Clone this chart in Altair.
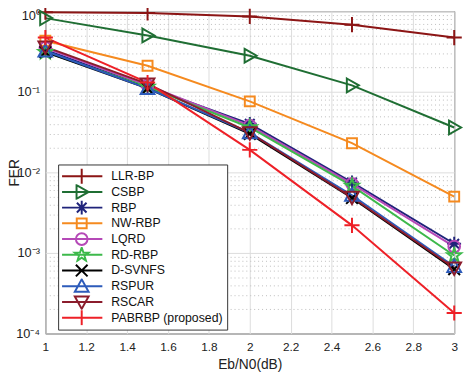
import altair as alt
import pandas as pd
import numpy as np

# ---- data ----
ebn0 = [1.0, 1.5, 2.0, 2.5, 3.0]
series_names = ["LLR-BP", "CSBP", "RBP", "NW-RBP", "LQRD", "RD-RBP",
                "D-SVNFS", "RSPUR", "RSCAR", "PABRBP (proposed)"]
fer_llrbp = [0.97, 0.95, 0.86, 0.68, 0.47]
fer_csbp = [0.82, 0.50, 0.28, 0.12, 0.036]
fer_rbp = [0.33, 0.115, 0.040, 0.0075, 0.0013]
fer_nwrbp = [0.43, 0.21, 0.076, 0.023, 0.0050]
fer_lqrd = [0.35, 0.12, 0.038, 0.0072, 0.0012]
fer_rdrbp = [0.31, 0.115, 0.036, 0.0068, 0.00093]
fer_dsvnfs = [0.31, 0.11, 0.030, 0.0048, 0.00063]
fer_rspur = [0.32, 0.11, 0.031, 0.0052, 0.00068]
fer_rscar = [0.36, 0.125, 0.031, 0.0049, 0.00065]
fer_pabrbp = [0.47, 0.13, 0.019, 0.0022, 0.00018]
all_fer = [fer_llrbp, fer_csbp, fer_rbp, fer_nwrbp, fer_lqrd, fer_rdrbp,
           fer_dsvnfs, fer_rspur, fer_rscar, fer_pabrbp]

colors = ["#8C1515", "#1F6E33", "#1F237A", "#F58A1F", "#B549B7", "#3DB94B",
          "#000000", "#2D5BBA", "#8B1C2C", "#EE2027"]

x_ticks = [1.0, 1.2, 1.4, 1.6, 1.8, 2.0, 2.2, 2.4, 2.6, 2.8, 3.0]
y_major = [1e-4, 1e-3, 1e-2, 1e-1, 1.0]
y_minor = [m * d for d in [1e-4, 1e-3, 1e-2, 1e-1] for m in range(2, 10)]


# marker shapes (unit paths)
def star_path():
    pts = []
    for i in range(10):
        r = 1.05 if i % 2 == 0 else 0.42
        a = -np.pi / 2 + i * np.pi / 5
        pts.append((r * np.cos(a), r * np.sin(a)))
    return "M" + "L".join(f"{x:.3f},{y:.3f}" for x, y in pts) + "Z"


markers = [
    "M-1.1,0L1.1,0M0,-1.1L0,1.1",                                  # +
    "M-0.75,-1L1,0L-0.75,1Z",                                      # >
    "M-1,0L1,0M0,-1L0,1M-0.7,-0.7L0.7,0.7M-0.7,0.7L0.7,-0.7",       # *
    "M-0.72,-0.72L0.72,-0.72L0.72,0.72L-0.72,0.72Z",               # square
    "M-0.85,0A0.85,0.85 0 1,0 0.85,0A0.85,0.85 0 1,0 -0.85,0Z",    # circle
    star_path(),                                                   # pentagram
    "M-0.85,-0.85L0.85,0.85M-0.85,0.85L0.85,-0.85",                # x
    "M-1,0.8L0,-1L1,0.8Z",                                         # ^
    "M-1,-0.8L0,1L1,-0.8Z",                                        # v
    "M-1.1,0L1.1,0M0,-1.1L0,1.1",                                  # +
]
legend_shapes = [m + "M-3,0L3,0" for m in markers]

rows = []
for name, vals in zip(series_names, all_fer):
    for xv, yv in zip(ebn0, vals):
        rows.append({"series": name, "ebn0": xv, "fer": yv})
df = pd.DataFrame(rows)

FONT = "Liberation Sans"
SIZE = 196
xscale = alt.Scale(domain=[1, 3], nice=False, zero=False)
yscale = alt.Scale(type="log", domain=[1e-4, 1], nice=False)
cscale = alt.Scale(domain=series_names, range=colors)

base = alt.Chart(df)

# minor grid + x axis
g1 = base.mark_point(opacity=0).encode(
    x=alt.X("ebn0:Q", scale=xscale, title="Eb/N0(dB)",
            axis=alt.Axis(values=x_ticks, grid=True, gridColor="#DCDCDC", gridWidth=1,
                          domain=False, ticks=False, labelPadding=8,
                          labelFont=FONT, labelFontSize=12, labelColor="#222",
                          titleFont=FONT, titleFontSize=14, titleFontWeight="normal",
                          titleColor="#222", titlePadding=6, format=".1~f",
                          labelFlush=False)),
    y=alt.Y("fer:Q", scale=yscale,
            axis=alt.Axis(values=y_minor, grid=True, gridColor="#BDBDBD", gridDash=[1, 3],
                          gridWidth=1, labels=False, ticks=False, domain=False,
                          orient="left", title=None)),
)

# major grid + y labels
g2 = base.mark_point(opacity=0).encode(
    x=alt.X("ebn0:Q", scale=xscale, axis=None),
    y=alt.Y("fer:Q", scale=yscale, title="FER",
            axis=alt.Axis(values=y_major, grid=True, gridColor="#DCDCDC", gridWidth=1,
                          ticks=False, domain=False, orient="left", labelPadding=6,
                          labelExpr="'10' + ['⁻⁴','⁻³','⁻²','⁻¹','⁰'][round(log(datum.value)/LN10)+4]",
                          labelFont=FONT, labelFontSize=13, labelColor="#222",
                          labelOffset={"condition": {"test": "datum.value >= 1", "value": 5}, "value": 0},
                          titleFont=FONT, titleFontSize=14, titleFontWeight="normal",
                          titleColor="#222", titleX=-31, titleY=164, titleAngle=-90,
                          titleBaseline="middle", titleAlign="center")),
)

line_layers = []
point_layers = []
for name, shp, col in zip(series_names, markers, colors):
    sub = base.transform_filter(alt.datum.series == name)
    line_layers.append(
        sub.mark_line(strokeWidth=2, color=col)
        .encode(x=alt.X("ebn0:Q", scale=xscale, axis=None),
                y=alt.Y("fer:Q", scale=yscale, axis=None))
    )
    point_layers.append(
        sub.mark_point(shape=shp, size=SIZE, filled=False, strokeWidth=2, color=col, opacity=1)
        .encode(x=alt.X("ebn0:Q", scale=xscale, axis=None),
                y=alt.Y("fer:Q", scale=yscale, axis=None))
    )

leg = alt.Legend(orient="none", legendX=13, legendY=156, title=None,
                 fillColor="white", strokeColor="#333", padding=4, cornerRadius=0,
                 labelFont=FONT, labelFontSize=12.5, labelColor="#111",
                 symbolStrokeWidth=2, symbolOpacity=1, symbolSize=SIZE,
                 symbolOffset=12, labelOffset=22, rowPadding=0, clipHeight=15.8,
                 labelLimit=300)

legend_layer = base.mark_point(opacity=0, filled=False, size=SIZE, strokeWidth=2).encode(
    x=alt.X("ebn0:Q", scale=xscale, axis=None),
    y=alt.Y("fer:Q", scale=yscale, axis=None),
    color=alt.Color("series:N", scale=cscale, legend=leg),
    shape=alt.Shape("series:N", scale=alt.Scale(domain=series_names, range=legend_shapes), legend=leg),
)

chart = alt.layer(g1, g2, *line_layers, *point_layers, legend_layer).resolve_axis(
    x="independent", y="independent"
).properties(
    width=416, height=328,
    autosize=alt.AutoSizeParams(type="none"),
    padding={"left": 38, "top": 0, "right": 12, "bottom": 40},
).configure_view(stroke="#222", strokeWidth=1)

chart.save("out.html", embed_options={"renderer": "svg", "actions": False})
